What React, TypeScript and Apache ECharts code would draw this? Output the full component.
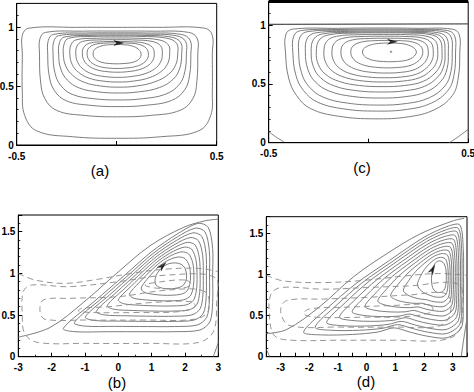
import React, { useEffect, useRef } from 'react';
import * as echarts from 'echarts';

type P = [number, number];

// ---------- Panel (a) ----------
const aOuter: P[] = [
  [0.478, 0.77], [0.478, 0.93], [0.44, 0.99], [0.2, 0.997], [0, 0.997], [-0.2, 0.997],
  [-0.44, 0.99], [-0.472, 0.93], [-0.472, 0.77], [-0.472, 0.45], [-0.46, 0.25], [-0.4, 0.12],
  [-0.22, 0.07], [0, 0.057], [0.22, 0.07], [0.41, 0.12], [0.47, 0.25], [0.478, 0.45],
];
const aMid: P[] = [
  [0.305, 0.77], [0.3, 0.86], [0.25, 0.905], [0.12, 0.92], [0, 0.922], [-0.12, 0.92],
  [-0.24, 0.905], [-0.262, 0.86], [-0.267, 0.77], [-0.255, 0.67], [-0.22, 0.59], [-0.16, 0.53],
  [-0.08, 0.5], [0.01, 0.49], [0.1, 0.5], [0.19, 0.535], [0.26, 0.6], [0.295, 0.68],
];
const aInner: P[] = [
  [0.122, 0.77], [0.11, 0.81], [0.075, 0.84], [0.035, 0.85], [0, 0.852], [-0.035, 0.85],
  [-0.075, 0.84], [-0.11, 0.81], [-0.118, 0.77], [-0.11, 0.735], [-0.09, 0.71], [-0.06, 0.695],
  [-0.03, 0.69], [0, 0.688], [0.03, 0.69], [0.065, 0.695], [0.095, 0.71], [0.115, 0.735],
];
const aLevels = [0, 0.21, 0.31, 0.375, 0.443, 0.5, 0.61, 0.71, 0.82, 0.9, 1];
const aArrow: P = [0.01, 0.865];

// ---------- Panel (c) ----------
const cOuter: P[] = [
  [0.458, 0.77], [0.455, 0.92], [0.42, 0.965], [0.25, 0.972], [0.05, 0.975], [-0.15, 0.972],
  [-0.38, 0.965], [-0.414, 0.92], [-0.416, 0.77], [-0.4, 0.55], [-0.36, 0.4], [-0.29, 0.29],
  [-0.15, 0.225], [0.03, 0.203], [0.2, 0.22], [0.33, 0.28], [0.42, 0.4], [0.45, 0.55],
];
const cMid: P[] = [
  [0.365, 0.77], [0.355, 0.87], [0.31, 0.915], [0.2, 0.93], [0.07, 0.932], [-0.06, 0.93],
  [-0.19, 0.915], [-0.24, 0.87], [-0.255, 0.77], [-0.245, 0.67], [-0.21, 0.59], [-0.14, 0.53],
  [-0.04, 0.497], [0.07, 0.488], [0.18, 0.497], [0.27, 0.53], [0.33, 0.6], [0.36, 0.68],
];
const cInner: P[] = [
  [0.24, 0.77], [0.228, 0.805], [0.19, 0.835], [0.145, 0.845], [0.105, 0.847], [0.065, 0.845],
  [0.02, 0.835], [-0.02, 0.805], [-0.03, 0.77], [-0.02, 0.735], [0.005, 0.71], [0.04, 0.695],
  [0.075, 0.69], [0.105, 0.688], [0.14, 0.69], [0.18, 0.697], [0.21, 0.712], [0.23, 0.737],
];
const cLevels = [0, 0.115, 0.205, 0.31, 0.4, 0.48, 0.57, 0.66, 0.76, 0.87, 1];
const cCorners: P[][] = [
  [[-0.5, 0.093], [-0.46, 0.045], [-0.424, 0.008]],
  [[0.405, 0.0], [0.45, 0.05], [0.5, 0.114]],
];
const cSurface: P[] = [[-0.5, 1.005], [0.5, 1.01]];
const cTop: P[] = [[-0.5, 1.2], [0.5, 1.2]];
const cArrow: P = [0.12, 0.858];
const cDot: P = [0.113, 0.773];

// ---------- Panel (b) ----------
const bOuter: P[] = [
  [2.83, 0.97], [2.83, 1.3], [2.7, 1.55], [2.4, 1.6], [1.8, 1.48], [1.0, 1.26], [0.2, 0.98],
  [-0.7, 0.67], [-1.65, 0.34], [-1.3, 0.3], [-0.3, 0.3], [0.8, 0.3], [1.7, 0.3], [2.45, 0.32],
  [2.75, 0.42], [2.83, 0.65],
];
const bInner: P[] = [
  [2.05, 0.97], [2.0, 1.06], [1.88, 1.11], [1.72, 1.125], [1.55, 1.12], [1.38, 1.09], [1.22, 1.03],
  [1.13, 0.97], [1.1, 0.91], [1.13, 0.86], [1.25, 0.83], [1.42, 0.815], [1.6, 0.815], [1.78, 0.825],
  [1.93, 0.85], [2.02, 0.9],
];
const bLevels = [0, 0.12, 0.24, 0.36, 0.48, 0.6, 0.72, 0.85, 1];
const bOpen: P[][] = [
  [[-3, 0.235], [-2.05, 0.35], [-1.05, 0.65], [-0.05, 1.0], [0.95, 1.33], [1.95, 1.55], [2.6, 1.63], [3, 1.65]],
  [[2.85, 0], [2.92, 0.08], [3, 0.17]],
];
const bDashOpen: P[][] = [
  [[-3, 1.0], [-2.5, 0.92], [-1.6, 0.88], [-0.6, 0.93], [0.4, 1.0], [1.4, 1.05], [2.4, 1.06], [3, 1.02]],
];
const bDashLoops: P[][] = [
  [[2.9, 0.95], [1.5, 0.98], [0, 0.9], [-1.5, 0.84], [-2.6, 0.86], [-2.85, 0.78], [-2.88, 0.5],
   [-2.8, 0.27], [-2.4, 0.17], [-1, 0.16], [1, 0.16], [2.4, 0.17], [2.85, 0.3], [2.95, 0.65]],
  [[2.6, 0.78], [1.5, 0.8], [0, 0.72], [-1.5, 0.7], [-2.25, 0.68], [-2.35, 0.55], [-2.2, 0.45],
   [-1, 0.44], [0.8, 0.44], [2.3, 0.45], [2.7, 0.55]],
  [[2.2, 0.66], [1, 0.65], [-0.3, 0.6], [-1.1, 0.58], [-1.2, 0.55], [-0.8, 0.53], [0.5, 0.53],
   [1.8, 0.54], [2.3, 0.6]],
  [[2.0, 0.92], [1.3, 0.9], [0.8, 0.86], [1.2, 0.82], [2.0, 0.83], [2.2, 0.87]],
];
const bArrow: P = [1.33, 1.09];

// ---------- Panel (d) ----------
const dOuter: P[] = [
  [3.38, 0.97], [3.37, 1.3], [3.25, 1.6], [2.8, 1.58], [2.0, 1.45], [0.8, 1.17], [-0.4, 0.88],
  [-1.4, 0.58], [-2.2, 0.3], [-1.6, 0.265], [-0.5, 0.27], [0.4, 0.3], [0.95, 0.35], [1.5, 0.3],
  [2.1, 0.25], [2.8, 0.23], [3.3, 0.35], [3.37, 0.65],
];
const dInner: P[] = [
  [2.78, 0.97], [2.765, 1.06], [2.7, 1.13], [2.6, 1.16], [2.48, 1.16], [2.38, 1.13], [2.31, 1.08],
  [2.275, 1.02], [2.26, 0.95], [2.27, 0.89], [2.3, 0.84], [2.35, 0.81], [2.4, 0.79], [2.47, 0.78],
  [2.55, 0.78], [2.65, 0.79], [2.73, 0.83], [2.77, 0.9],
];
const dLevels = [0, 0.09, 0.18, 0.28, 0.38, 0.48, 0.58, 0.68, 0.78, 0.89, 1];
const dOpen: P[][] = [
  [[-3.5, 0.28], [-2.79, 0.33], [-1.63, 0.61], [-0.46, 0.97], [0.7, 1.25], [1.86, 1.49], [3.02, 1.65], [3.4, 1.68]],
  [[3.48, 0.42], [3.38, 0.2], [3.3, 0]],
  [[-3.5, 0.09], [-3.42, 0.03], [-3.38, 0]],
];
const dDashOpen: P[][] = [
  [[-3.5, 0.99], [-2.9, 0.92], [-1.5, 0.9], [0, 0.93], [1.3, 0.98], [2.5, 1.01], [3.5, 0.99]],
];
const dDashLoops: P[][] = [
  [[3.2, 0.88], [1.5, 0.86], [0, 0.84], [-1.5, 0.82], [-3.0, 0.84], [-3.35, 0.75], [-3.38, 0.45],
   [-3.2, 0.25], [-2.6, 0.2], [-1, 0.2], [1, 0.2], [2.6, 0.2], [3.2, 0.3], [3.35, 0.6]],
  [[2.8, 0.76], [1.5, 0.75], [0, 0.72], [-1.5, 0.7], [-2.8, 0.68], [-3.0, 0.55], [-2.7, 0.38],
   [-1, 0.36], [1, 0.36], [2.5, 0.37], [2.9, 0.5]],
  [[2.2, 0.63], [0.8, 0.62], [-0.8, 0.6], [-2.0, 0.58], [-2.2, 0.52], [-1.8, 0.48], [0, 0.48],
   [1.5, 0.49], [2.3, 0.55]],
];
const dArrow: P = [2.3, 1.06];

// ---------- tick labels ----------
const xLabelsAC = [-0.5, 0.5];
const yLabelsAC = [0, 0.5, 1];
const xLabelsBD = [-3, -2, -1, 0, 1, 2, 3];
const yLabelsBD = [0, 0.5, 1, 1.5];

const LINE = '#6e6e6e';
const DASH = '#8a8a8a';
const FONT = 'Liberation Sans, Arial, Helvetica, sans-serif';

function lerp(a: P[], b: P[], t: number): P[] {
  return a.map((p, i) => [p[0] + (b[i][0] - p[0]) * t, p[1] + (b[i][1] - p[1]) * t] as P);
}
function blend3(outer: P[], mid: P[], inner: P[], t: number): P[] {
  return t <= 0.5 ? lerp(outer, mid, t / 0.5) : lerp(mid, inner, (t - 0.5) / 0.5);
}

function curves(idx: number, list: P[][], closed: boolean, dashed: boolean, width = 0.9, color = LINE, clip = true, smooth = 0.35): any {
  return {
    type: 'custom',
    coordinateSystem: 'cartesian2d',
    xAxisIndex: idx,
    yAxisIndex: idx,
    silent: true,
    clip,
    data: list.map((l, i) => [l[0][0], l[0][1], i]),
    renderItem: (params: any, api: any) => {
      const pts = list[params.dataIndex].map((p) => api.coord(p));
      return {
        type: closed ? 'polygon' : 'polyline',
        shape: { points: pts, smooth },
        style: { fill: 'none', stroke: dashed ? DASH : color, lineWidth: width, lineDash: dashed ? [6, 4] : null },
      };
    },
  };
}

function arrow(idx: number, p: P, size: [number, number], rot: number): any {
  return {
    type: 'scatter',
    xAxisIndex: idx,
    yAxisIndex: idx,
    silent: true,
    data: [p],
    symbol: 'path://M0,0L10,4L0,8L3,4Z',
    symbolSize: size,
    symbolRotate: rot,
    itemStyle: { color: '#000' },
    z: 5,
  };
}

function fmt(shown: number[]) {
  return (v: number) => (shown.some((s) => Math.abs(s - v) < 1e-9) ? String(v) : '');
}

function axis(idx: number, min: number, max: number, interval: number, shown: number[], minorSplit: number, isY: boolean): any {
  return {
    type: 'value',
    gridIndex: idx,
    min,
    max,
    interval,
    axisLine: { show: true, onZero: false, lineStyle: { color: '#000', width: 1 } },
    axisTick: { show: true, inside: true, length: 4, lineStyle: { color: '#000', width: 1 } },
    minorTick: { show: minorSplit > 1, splitNumber: minorSplit, length: 2, lineStyle: { color: '#000', width: 0.8 } },
    splitLine: { show: false },
    minorSplitLine: { show: false },
    axisLabel: {
      show: true,
      interval: 0,
      color: '#000',
      fontSize: 10,
      lineHeight: 10,
      fontWeight: 'bold',
      fontFamily: FONT,
      margin: isY ? 3 : 6,
      formatter: fmt(shown),
    },
  };
}

export default function App() {
  const ref = useRef<HTMLDivElement>(null);
  useEffect(() => {
    if (!ref.current) return;
    const chart = echarts.init(ref.current, undefined, { renderer: 'svg' });
    const gridBase = { show: true, borderColor: '#000', borderWidth: 1, backgroundColor: 'transparent', containLabel: false, outerBoundsMode: 'none' };
    const option: any = {
      animation: false,
      backgroundColor: '#fff',
      grid: [
        { ...gridBase, left: 16.7, top: 3.4, width: 200, height: 141.6 },
        { ...gridBase, left: 268.7, top: 1.5, width: 199.5, height: 141.2 },
        { ...gridBase, left: 18.3, top: 215, width: 200, height: 141.7 },
        { ...gridBase, left: 266.3, top: 216.7, width: 200.7, height: 140 },
      ],
      xAxis: [
        axis(0, -0.5, 0.5, 0.5, xLabelsAC, 1, false),
        axis(1, -0.5, 0.5, 0.5, xLabelsAC, 1, false),
        axis(2, -3, 3, 1, xLabelsBD, 2, false),
        axis(3, -3.5, 3.5, 0.5, xLabelsBD, 1, false),
      ],
      yAxis: [
        axis(0, 0, 1.2, 0.5, yLabelsAC, 5, true),
        axis(1, 0, 1.2, 0.5, yLabelsAC, 5, true),
        axis(2, 0, 1.7, 0.5, yLabelsBD, 5, true),
        axis(3, 0, 1.7, 0.5, yLabelsBD, 5, true),
      ],
      series: [
        curves(0, aLevels.map((t) => blend3(aOuter, aMid, aInner, t)), true, false, 0.9, LINE, true, 0.4),
        arrow(0, aArrow, [11, 6], 0),

        curves(1, cLevels.map((t) => blend3(cOuter, cMid, cInner, t)), true, false, 0.9, LINE, true, 0.4),
        curves(1, cCorners, false, false),
        curves(1, [cSurface], false, false, 1.2, '#555'),
        curves(1, [cTop], false, false, 3, '#000', false, 0),
        arrow(1, cArrow, [11, 6], 0),
        {
          type: 'scatter', xAxisIndex: 1, yAxisIndex: 1, silent: true, data: [cDot],
          symbol: 'circle', symbolSize: 2.5, itemStyle: { color: '#888' },
        },

        curves(2, bLevels.map((t) => lerp(bOuter, bInner, t)), true, false, 0.9, LINE, true, 0.3),
        curves(2, bOpen, false, false),
        curves(2, bDashOpen, false, true),
        curves(2, bDashLoops, true, true),
        arrow(2, bArrow, [11, 6], 45),

        curves(3, dLevels.map((t) => lerp(dOuter, dInner, t)), true, false, 0.9, LINE, true, 0.3),
        curves(3, dOpen, false, false),
        curves(3, dDashOpen, false, true),
        curves(3, dDashLoops, true, true),
        arrow(3, dArrow, [11, 6], 62),
      ],
      graphic: [
        { type: 'text', x: 100, y: 170, style: { text: '(a)', font: `15px ${FONT}`, fill: '#000', textAlign: 'center', textVerticalAlign: 'middle' } },
        { type: 'text', x: 362, y: 167, style: { text: '(c)', font: `15px ${FONT}`, fill: '#000', textAlign: 'center', textVerticalAlign: 'middle' } },
        { type: 'text', x: 117, y: 382, style: { text: '(b)', font: `15px ${FONT}`, fill: '#000', textAlign: 'center', textVerticalAlign: 'middle' } },
        { type: 'text', x: 366, y: 381, style: { text: '(d)', font: `15px ${FONT}`, fill: '#000', textAlign: 'center', textVerticalAlign: 'middle' } },
      ],
    };
    chart.setOption(option);
    return () => chart.dispose();
  }, []);
  return (
    <div
      ref={ref}
      style={{ position: 'fixed', left: 0, top: 0, width: 474, height: 392, background: '#fff' }}
    />
  );
}
